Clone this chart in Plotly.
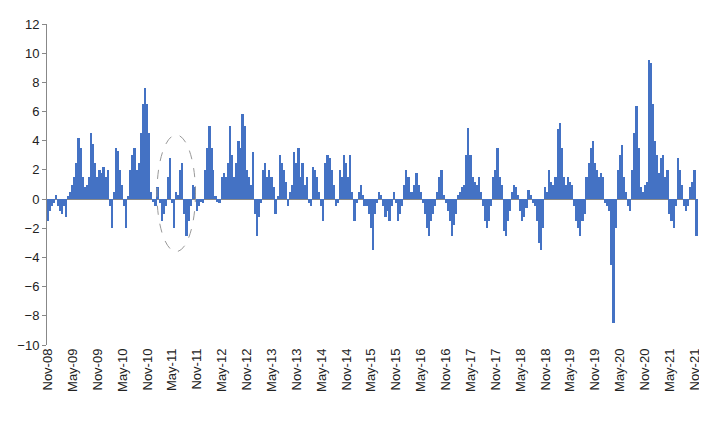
import plotly.graph_objects as go
import pandas as pd

values = [
-1.5,-0.8, -0.5,-0.3, 0.3,-0.5, -0.8,-1.0, -0.5,-1.2, 0.2,0.5, 1.0,1.5, 2.5,4.2, 3.5,1.5, 0.8,1.0,
1.5,4.5, 3.8,2.5, 1.5,2.0, 1.8,2.2, 1.5,2.0, -0.5,-2.0, 0.5,3.5, 3.3,2.0, 1.0,-0.5, -2.0,0.2,
2.0,3.0, 3.5,2.0, 2.5,4.5, 6.5,7.6, 6.5,4.5, 0.5,-0.2, -0.5,0.8, -0.3,-1.5, -1.0,-0.5, 1.5,2.8,
-0.3,-2.0, 0.5,0.3, 2.0,2.5, -1.0,-2.5, -1.5,-0.5, 1.0,0.8, -0.8,-0.5, -0.2,-0.3, 2.0,3.5, 5.0,3.5,
2.0,0.2, -0.2,-0.3, 1.5,1.8, 1.5,2.5, 5.0,3.0, 1.5,2.5, 4.0,3.5, 5.8,5.0, 2.0,1.5, 1.0,3.2,
-1.0,-2.5, -1.2,-0.3, 2.0,2.5, 1.5,2.0, 1.5,0.8, -1.0,0.2, 3.0,2.5, 2.0,1.2, -0.5,0.5, 1.0,3.2,
2.5,3.5, 1.5,2.5, 1.0,1.5, -0.3,-0.5, 2.2,2.0, 1.5,0.5, -0.5,-1.5, 2.5,3.0, 2.8,2.0, 1.0,-0.5,
-0.3,2.0, 1.5,3.0, 2.5,1.5, 3.0,0.5, -1.5,-0.3, 0.5,1.0, 0.3,-0.5, -0.5,-1.0, -2.0,-3.5, -1.0,-0.3,
0.5,0.3, -0.5,-1.2, -0.8,-1.5, -0.5,0.5, -0.3,-1.5, -1.0,-0.5, 1.0,2.0, 1.5,0.5, 0.5,1.0, 1.8,1.0,
0.5,-0.3, -1.0,-2.0, -2.5,-1.5, -1.0,-0.5, 0.5,1.5, 2.0,0.3, -0.3,-0.8, -1.5,-2.5, -1.8,-1.0, 0.3,0.5,
0.8,1.0, 3.0,4.9, 3.0,1.5, 1.2,1.0, 1.5,0.5, -0.5,-1.5, -2.0,-1.5, -0.5,1.5, 2.0,3.5, 1.5,1.0,
-2.2,-2.5, -1.5,-0.8, 0.5,1.0, 0.8,0.3, -0.8,-1.5, -1.2,-0.6, 0.6,0.3, -0.3,-0.5, -1.5,-3.0, -3.5,-2.0,
0.8,0.5, 2.0,1.2, 1.0,1.5, 4.8,5.2, 3.5,1.5, 1.0,1.5, 1.2,1.0, -0.5,-1.5, -2.0,-2.5, -1.5,-1.0,
1.5,2.5, 3.5,4.0, 2.5,2.0, 1.5,1.8, 1.5,-0.3, -0.5,-0.8, -4.5,-8.5, -2.0,2.0, 3.0,3.7, 1.5,0.5,
-0.5,-0.8, 2.0,4.5, 6.4,3.5, 0.8,0.5, 1.0,1.2, 9.5,9.3, 6.5,4.0, 3.0,1.8, 2.8,3.0, 1.5,2.0,
-1.0,-1.5, -2.0,-0.5, 2.8,2.0, 1.0,-0.5, -0.8,-0.5, 0.8,1.2, 2.0,-2.5,
]

months = pd.date_range("2008-11-01", "2021-11-01", freq="MS")
dates = []
for m in months:
    dates.append(m)
    dates.append(m + pd.Timedelta(days=15))
dates = dates[:len(values)]

tick_vals = pd.date_range("2008-11-01", "2021-11-01", freq="6MS")
tick_text = [d.strftime("%b-%y") for d in tick_vals]

fig = go.Figure(go.Bar(x=dates, y=values, marker_color="#4472C4",
                       marker_line_width=0))
fig.update_layout(
    width=707, height=429, bargap=0, plot_bgcolor="white", paper_bgcolor="white",
    margin=dict(l=37, r=17, t=9, b=92), showlegend=False,
    font=dict(family="Liberation Sans, Arial", size=13, color="#222"),
)
fig.update_yaxes(range=[-10, 12], dtick=2, showgrid=False, showline=True,
                 linecolor="#888", ticks="outside", ticklen=4, tickcolor="#888",
                 zeroline=True, zerolinecolor="#888", zerolinewidth=1)
fig.update_xaxes(tickvals=tick_vals, ticktext=tick_text, tickangle=-90,
                 showgrid=False, showline=False, ticks="",
                 range=[pd.Timestamp("2008-10-25"), pd.Timestamp("2021-11-25")])
fig.add_shape(type="circle", xref="x", yref="y",
              x0="2011-01-10", x1="2011-10-20", y0=-3.6, y1=4.4,
              line=dict(color="#999", width=1, dash="dash"))
fig.write_html("out.html")
